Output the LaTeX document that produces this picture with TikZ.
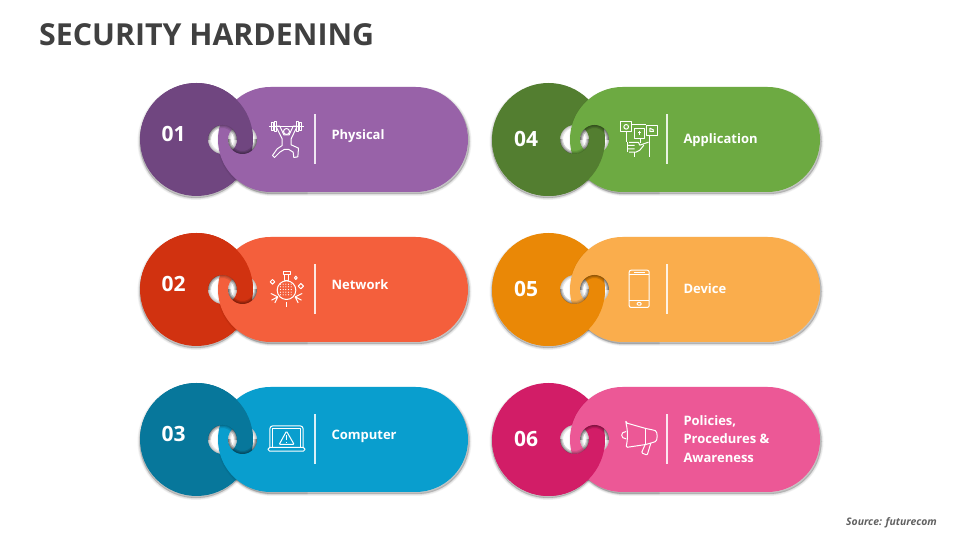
\documentclass[tikz,border=0pt]{standalone}
\usepackage{fontspec}
\setmainfont{Open Sans}
\definecolor{purpleD}{RGB}{112,70,128}
\definecolor{purpleL}{RGB}{152,98,168}
\definecolor{redD}{RGB}{209,50,16}
\definecolor{redL}{RGB}{244,95,60}
\definecolor{blueD}{RGB}{7,119,155}
\definecolor{blueL}{RGB}{9,158,206}
\definecolor{greenD}{RGB}{83,126,48}
\definecolor{greenL}{RGB}{109,170,66}
\definecolor{orangeD}{RGB}{234,136,6}
\definecolor{orangeL}{RGB}{250,173,76}
\definecolor{pinkD}{RGB}{210,29,103}
\definecolor{pinkL}{RGB}{236,88,150}
\definecolor{titlegray}{RGB}{64,64,64}
\tikzset{
  iconzoom/.style={x=.3333pt,y=-.3333pt,shift={(-290,-118)},draw=white,line width=1pt,line join=round},
  tagtext/.style={text=white,font=\bfseries\fontsize{21}{24}\selectfont},
  labeltext/.style={text=white,anchor=west,align=left,inner sep=0pt,font=\bfseries\fontsize{13}{18.7}\selectfont}
}
\newcommand{\labstrut}{\vphantom{Apy}}
% paths of one link, origin in the middle of the disc
\newcommand{\discpath}{(0,0) circle[radius=56.5]}
\newcommand{\holeA}{(26,0) circle[radius=14.5]}
\newcommand{\holeB}{(46,0) circle[radius=14.5]}
\newcommand{\pillpath}{(74,52.5) -- (219,52.5) arc[start angle=90,end angle=-90,radius=52.5] -- (74,-52.5) arc[start angle=270,end angle=90,radius=52.5] -- cycle}
% icons, in the pixels of a 3x crop
\newcommand{\iconlifter}{
  \begin{scope}[iconzoom]
    \draw (238,78) -- (342,78);
    \draw (246,66) rectangle (252,90) (255,63) rectangle (261,93);
    \draw (328,66) rectangle (334,90) (319,63) rectangle (325,93);
    \draw (290,94) circle[radius=9];
    \draw (258,78) -- (277,116) -- (277,136) -- (262,146) -- (248,166) -- (254,172) -- (270,156) -- (283,148) -- (297,148) -- (310,156) -- (312,172) -- (324,170) -- (326,144) -- (304,134) -- (304,116) -- (322,78) -- (310,78) -- (298,104) -- (282,104) -- (270,78) -- cycle;
  \end{scope}}
\newcommand{\iconapp}{
  \begin{scope}[iconzoom,shift={(-6,0)}]
    \draw (243,65) rectangle (275,95) (283,85) rectangle (315,115) (320,75) rectangle (352,105);
    \draw (259,80) circle[radius=7];
    \draw (299,94) -- (299,106) (295,98) -- (303,98);
    \draw (330,84) -- (330,94) -- (342,94) (330,84) -- (342,90);
    \draw (275,74) -- (318,74) (260,95) -- (260,125) (328,105) -- (328,172) (302,115) -- (302,128);
    \draw (268,127) -- (296,127) -- (300,135) -- (326,126) (264,136) -- (284,136) (264,146) -- (284,146) (268,156) -- (288,156) -- (300,150) -- (312,135);
    \draw (264,127) -- (264,156) (285,156) -- (285,172);
  \end{scope}}
\newcommand{\icondisco}{
  \begin{scope}[iconzoom]
    \draw (281,65) rectangle (301,73) (285,73) rectangle (297,92);
    \draw (290,120) circle[radius=28];
    \foreach \dotx in {272,280,288,296,304} \foreach \doty in {102,110,118,126,134}
      \fill[white] (\dotx,\doty) circle[radius=1.8];
    \draw (241,95) -- (248,88) -- (255,95) -- (248,102) -- cycle;
    \draw (325,108) -- (333,100) -- (341,108) -- (333,116) -- cycle;
    \draw (314,83) -- (318,78) -- (322,83) -- (318,88) -- cycle;
    \draw (243,130) -- (264,140) (245,150) -- (264,140) (255,158) -- (264,140);
    \draw (337,130) -- (316,140) (335,150) -- (316,140) (325,158) -- (316,140);
    \draw (290,155) -- (290,172);
  \end{scope}}
\newcommand{\iconlaptop}{
  \begin{scope}[iconzoom]
    \draw[rounded corners=3pt] (240,142) -- (240,77) -- (340,77) -- (340,142);
    \draw (248,142) -- (248,85) -- (332,85) -- (332,142);
    \draw[rounded corners=1.5pt] (235,142) -- (345,142) -- (345,153) -- (235,153) -- cycle;
    \draw[rounded corners=1pt] (290,93) -- (313,133) -- (268,133) -- cycle;
    \draw (290,106) -- (290,120) (290,125) -- (290,128);
  \end{scope}}
\newcommand{\iconphone}{
  \begin{scope}[iconzoom,shift={(-6,0)}]
    \draw[rounded corners=2pt] (268,60) rectangle (328,172);
    \draw (268,72) -- (328,72) (268,150) -- (328,150);
    \draw (282,66) -- (314,66);
    \draw[rounded corners=1pt] (292,157) rectangle (304,165);
  \end{scope}}
\newcommand{\iconhorn}{
  \begin{scope}[iconzoom,shift={(-6,0)}]
    \draw[rounded corners=1.5pt] (258,68) -- (318,85) -- (342,90) .. controls (354,94) and (354,122) .. (342,126) -- (318,133) -- (258,142) .. controls (264,120) and (264,90) .. cycle;
    \draw (318,85) -- (318,133);
    \draw (259,94) .. controls (241,94) and (241,116) .. (259,116);
    \draw[rounded corners=1pt] (316,133) -- (305,158) -- (322,165) -- (333,129);
  \end{scope}}
\begin{document}
\begin{tikzpicture}[x=1pt,y=1pt]
  \useasboundingbox (0,0) rectangle (960,540);
  \node[anchor=west,inner sep=0pt,text=titlegray,font=\bfseries\fontsize{30.3}{36}\selectfont] (title) at (39,505.5) {SECURITY HARDENING};
  \node[anchor=east,inner sep=0pt,text=black!62,font=\bfseries\itshape\fontsize{10.4}{12}\selectfont] (source) at (937,17) {Source: futurecom};
  \foreach \px/\py/\clipdir/\dy/\tagx/\tagname/\dk/\lt/\ic/\lab in {
      196.5/400.5/1/6/-23/01/purpleD/purpleL/\iconlifter/Physical,
      196.5/250.5/1/6/-23/02/redD/redL/\icondisco/Network,
      196.5/100.5/1/6/-23/03/blueD/blueL/\iconlaptop/Computer,
      548.5/400.5/-1/1/-22.5/04/greenD/greenL/\iconapp/Application,
      548.5/250.5/-1/1/-22.5/05/orangeD/orangeL/\iconphone/Device,
      548.5/100.5/-1/1/-22.5/06/pinkD/pinkL/\iconhorn/{Policies,\\Procedures \&\\Awareness}} {
    \begin{scope}[shift={(\px,\py)}]
      % soft shadows
      \foreach \w in {4,2.5,1,0.1} {
        \fill[black,opacity=.05,draw=black,line width=\w] [shift={(-.5,-2)}] \discpath;
        \fill[black,opacity=.05,draw=black,line width=\w] [shift={(1.5,-2)}] \pillpath;
      }
      % the holes
      \fill[white] \holeA \holeB;
      \foreach \w in {6,3.5,1.5} {
        \begin{scope}
          \clip \holeA;
          \draw[black,opacity=.09,line width=\w] \holeA;
        \end{scope}
        \begin{scope}
          \clip \holeB;
          \draw[black,opacity=.09,line width=\w] \holeB;
        \end{scope}
      }
      % disc, pill on top of it, then half of the disc again
      \fill[\dk,even odd rule] \discpath \holeA;
      \foreach \w in {4,2.5,1} {
        \draw[black,opacity=.03,line width=\w,shift={(1,-1)}] (110,-52.5) -- (74,-52.5) arc[start angle=270,end angle=120,radius=52.5];
      }
      \fill[\lt,even odd rule] \pillpath \holeB;
      \begin{scope}
        \clip (-60,0) rectangle (60,60*\clipdir);
        \fill[\dk,even odd rule] \discpath \holeA;
      \end{scope}
      % dark edge where the links pass
      \foreach \w in {6,3.5,1.5} {
        \begin{scope}
          \clip (0,0) rectangle (80,-20*\clipdir);
          \clip \holeB;
          \draw[black,opacity=.14,line width=\w] \holeB;
        \end{scope}
        \begin{scope}
          \clip (0,0) rectangle (80,20*\clipdir);
          \clip \holeA;
          \draw[black,opacity=.1,line width=\w] \holeA;
        \end{scope}
      }
      \draw[white,opacity=.85,line width=1.5pt] (118.5,25) -- (118.5,-25);
      \begin{scope}[shift={(90,0)}]
        \ic
      \end{scope}
      \node[tagtext] (tag\tagname) at (\tagx,\dy) {\tagname};
      \node[labeltext] (label\tagname) at (134.8,\dy*.8-1.7) {\labstrut\lab\labstrut};
    \end{scope}
  }
\end{tikzpicture}
\end{document}
